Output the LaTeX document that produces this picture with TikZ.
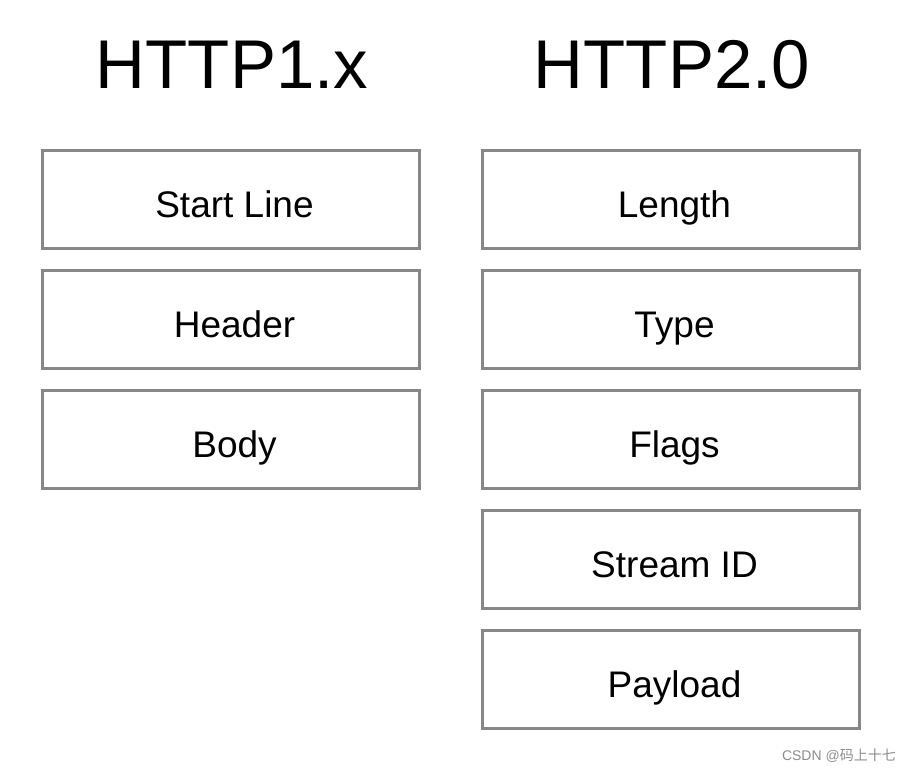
\documentclass[tikz,border=0pt]{standalone}
\usepackage{fontspec}
\setmainfont{Liberation Sans}
\newfontfamily\cjk{Noto Sans CJK SC}
\begin{document}
\begin{tikzpicture}[x=1pt,y=-1pt,
  fbox/.style={draw=black!47,line width=3pt,minimum width=377pt,minimum height=98pt,inner sep=0pt},
  lbl/.style={font=\fontsize{37}{40}\selectfont,inner sep=0pt,anchor=base},
  ttl/.style={font=\fontsize{69}{72}\selectfont,inner sep=0pt,anchor=base}]
\useasboundingbox (0,0) rectangle (910,774);
\node[ttl] (t1) at (232,88) {HTTP1.x};
\node[ttl] (t2) at (672,88) {HTTP2.0};
\node[fbox] (a1) at (230.5,199) {};
\node[fbox] (a2) at (230.5,319) {};
\node[fbox] (a3) at (230.5,439) {};
\node[fbox] (b1) at (670.5,199) {};
\node[fbox] (b2) at (670.5,319) {};
\node[fbox] (b3) at (670.5,439) {};
\node[fbox] (b4) at (670.5,559) {};
\node[fbox] (b5) at (670.5,679) {};
\node[lbl] (la1) at ([xshift=4pt,yshift=-18pt]a1.center) {Start Line};
\node[lbl] (la2) at ([xshift=4pt,yshift=-18pt]a2.center) {Header};
\node[lbl] (la3) at ([xshift=4pt,yshift=-18pt]a3.center) {Body};
\node[lbl] (lb1) at ([xshift=4pt,yshift=-18pt]b1.center) {Length};
\node[lbl] (lb2) at ([xshift=4pt,yshift=-18pt]b2.center) {Type};
\node[lbl] (lb3) at ([xshift=4pt,yshift=-18pt]b3.center) {Flags};
\node[lbl] (lb4) at ([xshift=4pt,yshift=-18pt]b4.center) {Stream ID};
\node[lbl] (lb5) at ([xshift=4pt,yshift=-18pt]b5.center) {Payload};
\node[anchor=east,text=black!45,font=\fontsize{14}{16}\selectfont,inner sep=0pt] (wm) at (896,756) {CSDN @{\cjk 码上十七}};
\end{tikzpicture}
\end{document}
